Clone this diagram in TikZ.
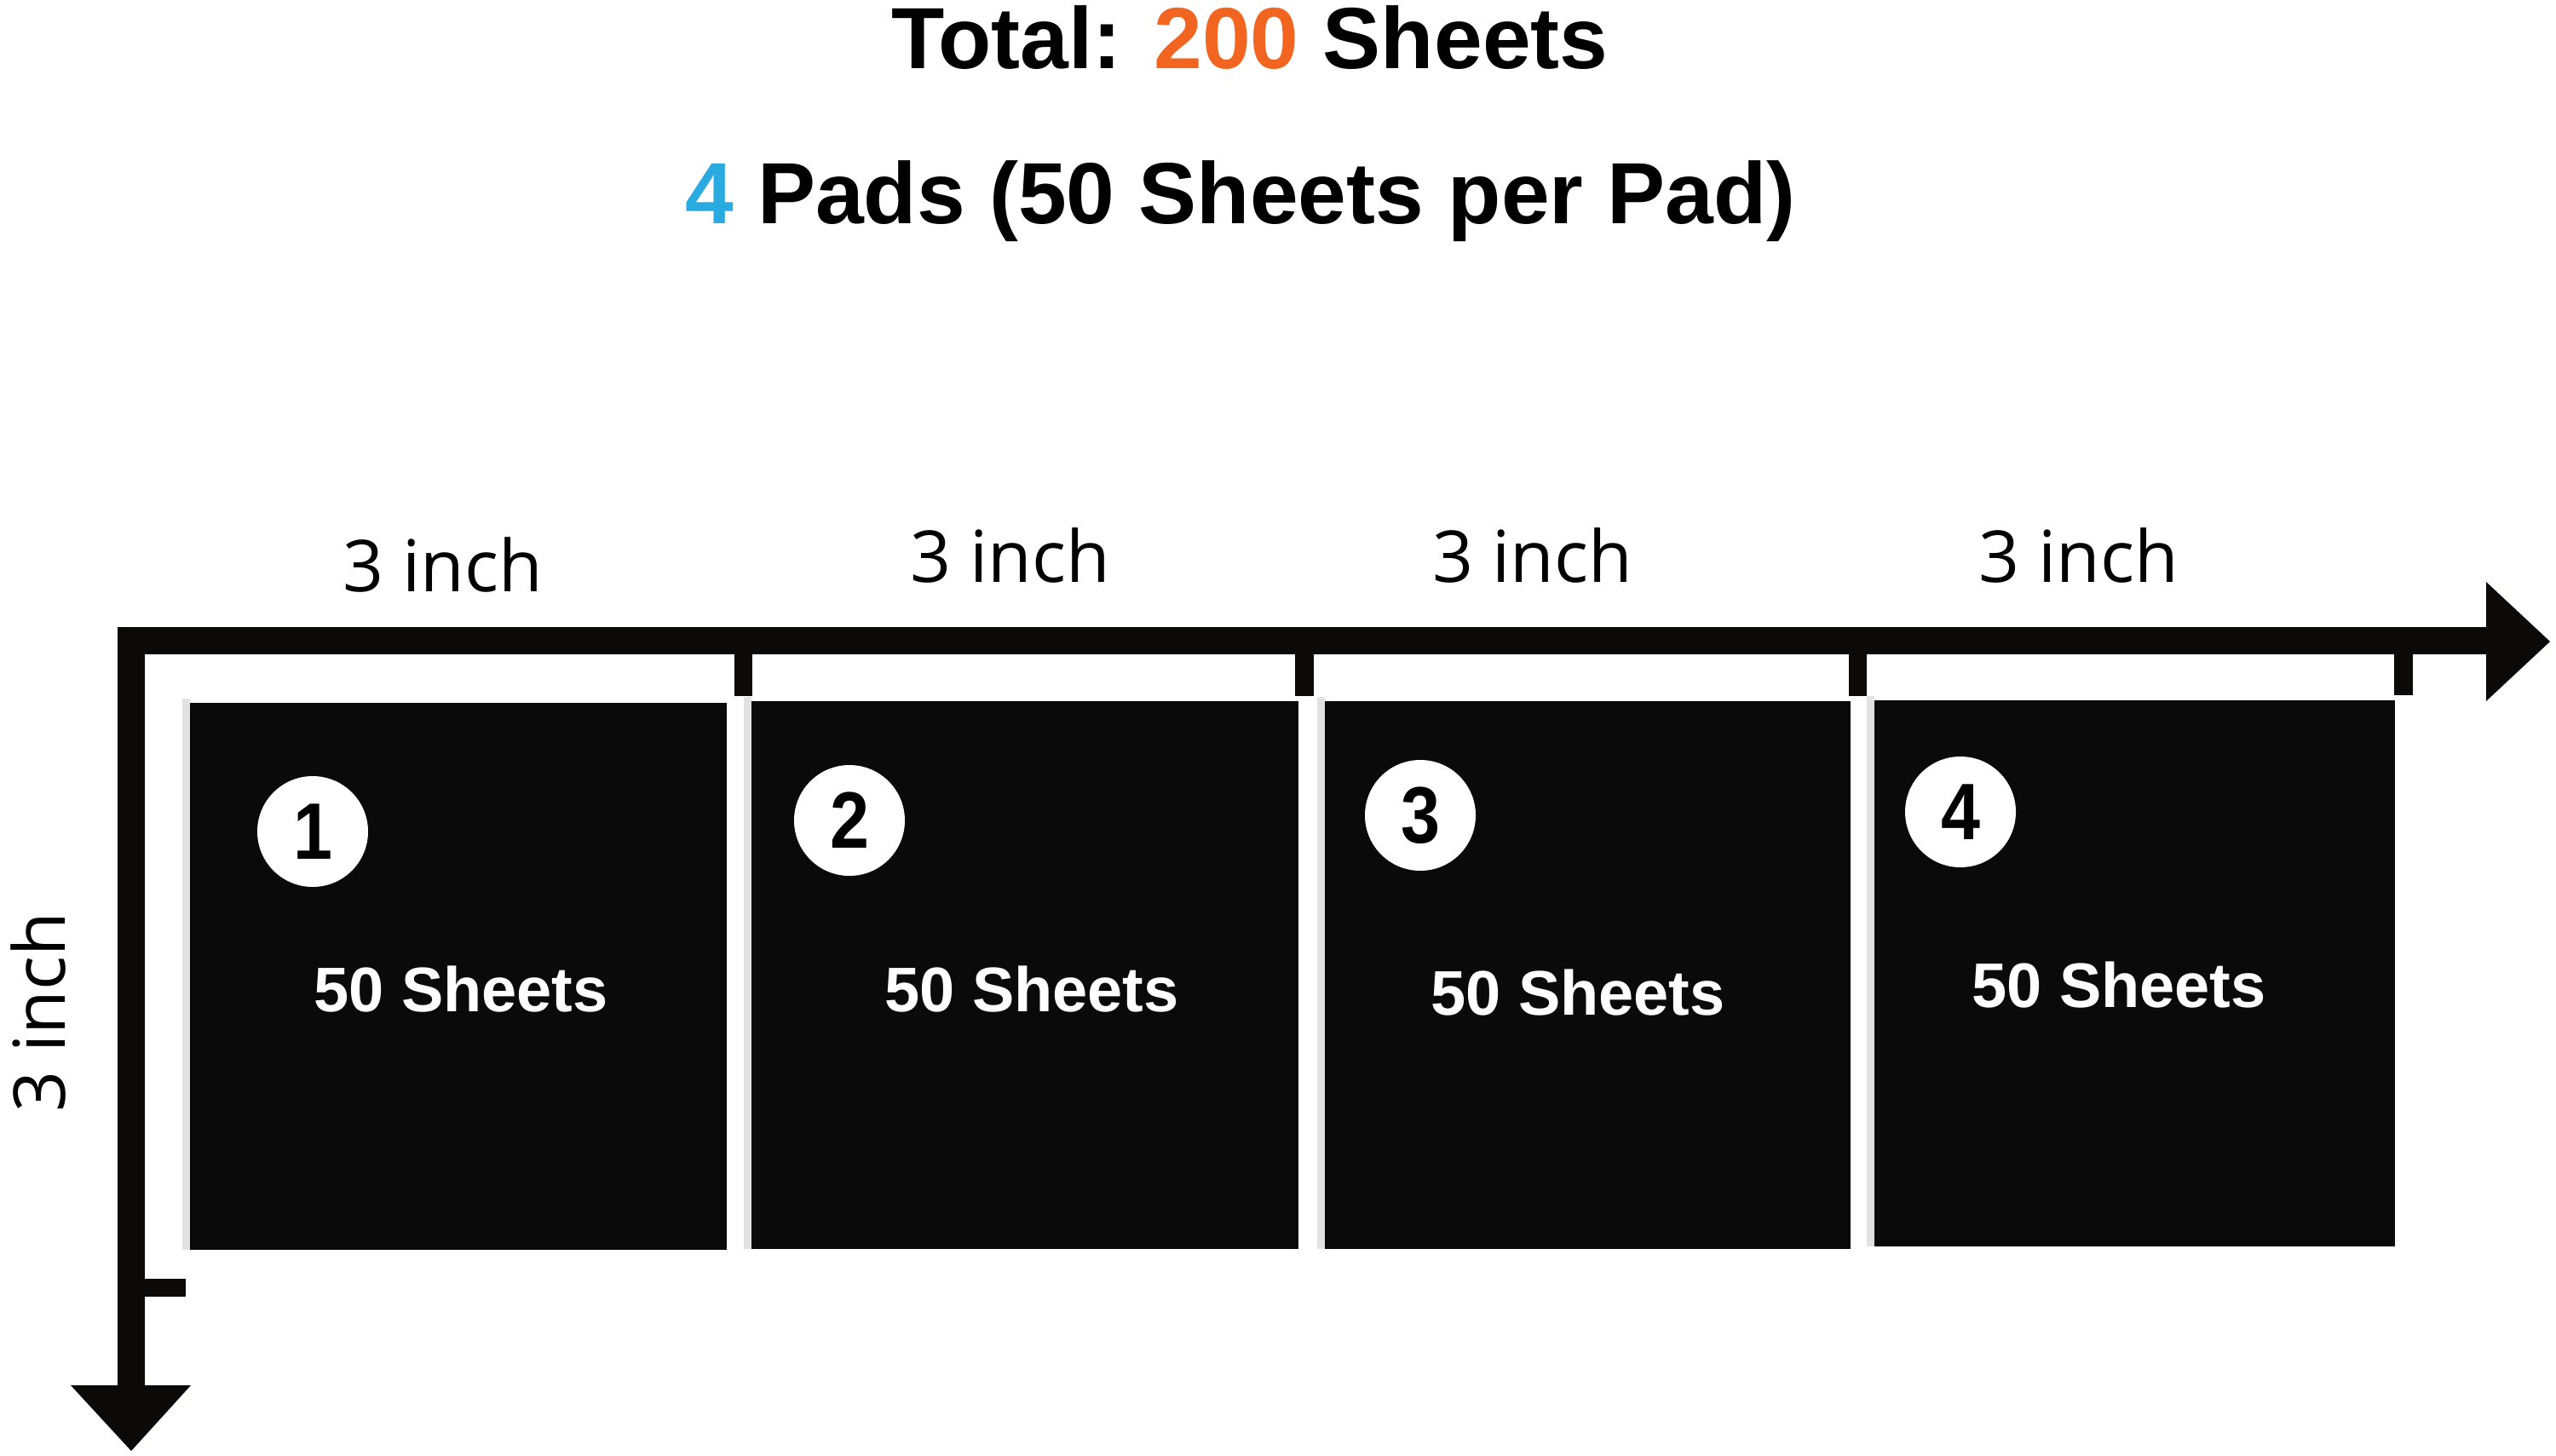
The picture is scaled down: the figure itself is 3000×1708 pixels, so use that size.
\documentclass[tikz,border=0pt]{standalone}
\usepackage{fontspec}
\setmainfont{Liberation Sans}
\newfontfamily\dimfont{Open Sans}
\newfontfamily\numfont{Liberation Sans}
\definecolor{padblack}{HTML}{0A0A0A}
\definecolor{axisblack}{HTML}{0C0A08}
\definecolor{orangeN}{RGB}{241,101,33}
\definecolor{blueN}{RGB}{41,170,225}
\definecolor{shadowc}{HTML}{E2E2E2}
\newcommand{\padnum}[1]{\scalebox{0.88}[1]{#1}}
\begin{document}
\begin{tikzpicture}[x=1pt,y=-1pt,
  padbox/.style={fill=padblack, draw=none, inner sep=0pt, outer sep=0pt},
  numcirc/.style={circle, fill=white, draw=none, minimum size=130pt, inner sep=0pt,
    font=\numfont\bfseries\fontsize{94}{94}\selectfont, text=black},
  sheetlbl/.style={anchor=base, inner sep=0pt, text=white,
    font=\bfseries\fontsize{74}{74}\selectfont},
  dimlbl/.style={anchor=base, inner sep=0pt, text=black,
    font=\dimfont\fontsize{84}{84}\selectfont},
  titlelbl/.style={anchor=base, inner sep=0pt, text=black,
    font=\bfseries\fontsize{102}{102}\selectfont},
  axisline/.style={draw=axisblack, line width=32pt, line cap=butt},
  tipfill/.style={fill=axisblack, draw=none},
  tickfill/.style={fill=axisblack, draw=none}
]
\useasboundingbox (0,0) rectangle (3000,1708);
\fill[white] (0,0) rectangle (3000,1708);

% titles
\node[titlelbl] (title1) at (1467,80) {Total: \textcolor{orangeN}{200} Sheets};
\node[titlelbl] (title2) at (1456,262) {\textcolor{blueN}{4} Pads (50 Sheets per Pad)};

% axes
\coordinate (hstart) at (138,752);
\coordinate (hend) at (2920,752);
\coordinate (vstart) at (154,736);
\coordinate (vend) at (154,1628);
\draw[axisline] (hstart) -- (hend);
\draw[axisline] (vstart) -- (vend);
\fill[tipfill] (2918,683) -- (2993,753) -- (2918,823) -- cycle;
\fill[tipfill] (83,1626) -- (154,1703) -- (224,1626) -- cycle;

% ticks
\fill[tickfill] (862,766) rectangle (883,817);
\fill[tickfill] (1520,766) rectangle (1542,817);
\fill[tickfill] (2170,766) rectangle (2191,817);
\fill[tickfill] (2810,766) rectangle (2832,816);
\fill[tickfill] (168,1501) rectangle (218,1522);

% pads
\node[padbox, minimum width=630pt, minimum height=642pt] (p1) at (538,1146) {};
\node[padbox, minimum width=642pt, minimum height=643pt] (p2) at (1203,1144.5) {};
\node[padbox, minimum width=617pt, minimum height=643pt] (p3) at (1863.5,1144.5) {};
\node[padbox, minimum width=611pt, minimum height=641pt] (p4) at (2505.5,1142.5) {};
\foreach \p in {p1,p2,p3,p4}{
  \fill[shadowc] ([xshift=-9pt,yshift=5pt]\p.north west) rectangle (\p.south west);
}

% numbers
\node[numcirc] (c1) at (367,976) {\padnum{1}};
\node[numcirc] (c2) at (997,963) {\padnum{2}};
\node[numcirc] (c3) at (1667,957) {\padnum{3}};
\node[numcirc] (c4) at (2301,953) {\padnum{4}};

% sheet labels
\node[sheetlbl] (s1) at (541,1187) {50 Sheets};
\node[sheetlbl] (s2) at (1211,1187) {50 Sheets};
\node[sheetlbl] (s3) at (1852,1191) {50 Sheets};
\node[sheetlbl] (s4) at (2487,1182) {50 Sheets};

% dimension labels
\node[dimlbl] (d1) at (520,694) {3 inch};
\node[dimlbl] (d2) at (1186,683) {3 inch};
\node[dimlbl] (d3) at (1799,683) {3 inch};
\node[dimlbl] (d4) at (2440,683) {3 inch};
\node[dimlbl, rotate=90] (dv) at (76,1188) {3 inch};
\end{tikzpicture}
\end{document}
